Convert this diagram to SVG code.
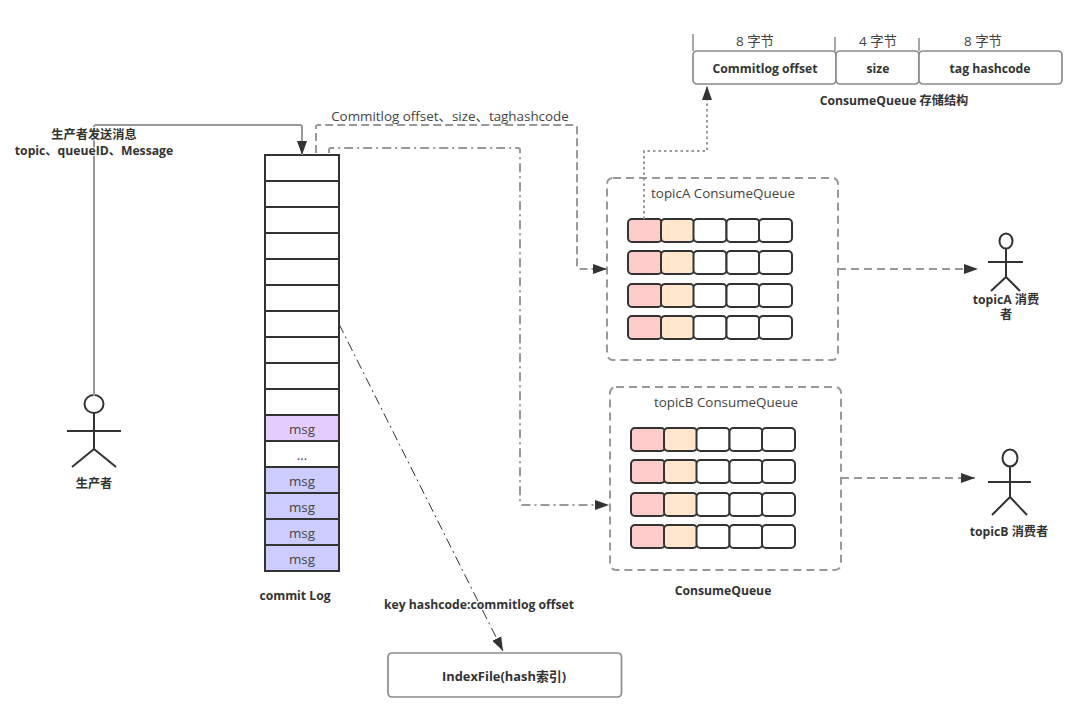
<svg xmlns="http://www.w3.org/2000/svg" width="1087" height="722" viewBox="0 0 1087 722">
<style>
text{font-family:"Open Sans","Noto Sans CJK SC",sans-serif;font-size:13.4px;fill:#444;text-anchor:middle}
.b{font-weight:700;font-size:12.2px;fill:#333}
.cell{stroke:#333;stroke-width:2;fill:#fff}
.q{stroke:#333;stroke-width:2;fill:#fff}
.p{fill:#ffcccc}.o{fill:#ffe6cc}
.box{stroke:#8c8c8c;stroke-width:1.700;fill:#fff}
.dash{stroke:#999;stroke-width:2;fill:none;stroke-dasharray:8 5}
.c{fill:none;stroke:#999;stroke-width:2}
.act{fill:none;stroke:#333;stroke-width:2}
</style>
<defs>
<marker id="ah" markerUnits="userSpaceOnUse" markerWidth="14" markerHeight="12" refX="14" refY="6" orient="auto"><path d="M0 1 L14 6 L0 11 Z" fill="#333"/></marker>
<g id="rowc"><rect class="q p" x="0" y="0" width="34" height="23" rx="4"/><rect class="q o" x="33" y="0" width="33" height="23" rx="4"/><rect class="q" x="65.500" y="0" width="33" height="23" rx="4"/><rect class="q" x="98.500" y="0" width="33" height="23" rx="4"/><rect class="q" x="131" y="0" width="33" height="23" rx="4"/></g>
</defs>
<rect width="1087" height="722" fill="#fff"/>
<g id="struct">
<path d="M693 34V51M835 37V51M919 38V51" stroke="#8c8c8c" stroke-width="1.500" fill="none"/>
<rect class="box" x="693" y="51" width="143" height="33" rx="4"/>
<rect class="box" x="836" y="51" width="83" height="33" rx="4"/>
<rect class="box" x="919" y="51" width="143" height="33" rx="4"/>
<text x="755" y="46">8 字节</text><text x="878" y="46">4 字节</text><text x="983" y="46">8 字节</text>
<text class="b" x="765" y="73">Commitlog offset</text><text class="b" x="878" y="73">size</text><text class="b" x="990" y="73">tag hashcode</text>
<text class="b" x="894" y="105">ConsumeQueue 存储结构</text>
</g>
<g id="commitlog">
<rect class="cell" x="265" y="155" width="74" height="26"/><rect class="cell" x="265" y="181" width="74" height="26"/><rect class="cell" x="265" y="207" width="74" height="26"/><rect class="cell" x="265" y="233" width="74" height="26"/><rect class="cell" x="265" y="259" width="74" height="26"/><rect class="cell" x="265" y="285" width="74" height="26"/><rect class="cell" x="265" y="311" width="74" height="26"/><rect class="cell" x="265" y="337" width="74" height="26"/><rect class="cell" x="265" y="363" width="74" height="26"/><rect class="cell" x="265" y="389" width="74" height="26"/>
<rect class="cell" x="265" y="415" width="74" height="26" style="fill:#e5ccff"/><rect class="cell" x="265" y="441" width="74" height="26"/>
<rect class="cell" x="265" y="467" width="74" height="26" style="fill:#ccccff"/><rect class="cell" x="265" y="493" width="74" height="26" style="fill:#ccccff"/><rect class="cell" x="265" y="519" width="74" height="26" style="fill:#ccccff"/><rect class="cell" x="265" y="545" width="74" height="26" style="fill:#ccccff"/>
<text x="302" y="434">msg</text><text x="302" y="460">...</text><text x="302" y="486">msg</text><text x="302" y="512">msg</text><text x="302" y="538">msg</text><text x="302" y="564">msg</text>
<text class="b" x="295" y="600">commit Log</text>
</g>
<g id="topicA">
<rect class="dash" x="607" y="178" width="231" height="182" rx="6"/>
<text x="723" y="198">topicA ConsumeQueue</text>
<use href="#rowc" x="628" y="219"/><use href="#rowc" x="628" y="251"/><use href="#rowc" x="628" y="284"/><use href="#rowc" x="628" y="316"/>
</g>
<g id="topicB">
<rect class="dash" x="610" y="387" width="231" height="183" rx="6"/>
<text x="726" y="407">topicB ConsumeQueue</text>
<use href="#rowc" x="631" y="428"/><use href="#rowc" x="631" y="460"/><use href="#rowc" x="631" y="493"/><use href="#rowc" x="631" y="525"/>
</g>
<g id="producer">
<ellipse class="act" cx="94" cy="404" rx="9.500" ry="9"/>
<path class="act" d="M94 413V449M67 431H121M94 449L72 467M94 449L116 467"/>
<text class="b" x="94" y="488">生产者</text>
</g>
<g id="consumerA">
<ellipse class="act" cx="1006" cy="241" rx="6.500" ry="7.500"/>
<path class="act" d="M1006 249V277M988 262H1023M1006 277L991 291M1006 277L1020 291"/>
<text class="b" x="1006" y="304">topicA 消费</text><text class="b" x="1006" y="319">者</text>
</g>
<g id="consumerB">
<ellipse class="act" cx="1010" cy="458" rx="7.500" ry="8.500"/>
<path class="act" d="M1010 467V497M988 482H1031M1010 497L992 515M1010 497L1027 515"/>
<text class="b" x="1009" y="536">topicB 消费者</text>
</g>
<g id="indexfile">
<rect class="box" x="388" y="653" width="233.500" height="44" rx="4"/>
<text class="b" x="504" y="681" style="font-size:12.900px">IndexFile(hash索引)</text>
</g>
<g id="connectors">
<path class="c" d="M94 396V127Q94 125 96 125H300Q302 125 302 127V155" marker-end="url(#ah)"/>
<path class="c" stroke-dasharray="8 4" d="M316 153V127Q316 125 318 125H575Q577 125 577 127V267Q577 269 579 269H607" marker-end="url(#ah)"/>
<path class="c" stroke-dasharray="9 4 2 4" d="M329 153V150Q329 148 331 148H518Q520 148 520 150V503Q520 505 522 505H609" marker-end="url(#ah)"/>
<path class="c" stroke-dasharray="2.500 3" d="M644 219V151H707V86" marker-end="url(#ah)"/>
<path class="c" stroke-dasharray="8 5" d="M838 269H978" marker-end="url(#ah)"/>
<path class="c" stroke-dasharray="8 5" d="M841 478H975" marker-end="url(#ah)"/>
<path fill="none" stroke="#333" stroke-dasharray="10 4 2 4" d="M339 324L503 651" marker-end="url(#ah)"/>
</g>
<g id="labels">
<text class="b" x="94" y="139" style="paint-order:stroke;stroke:#fff;stroke-width:2px">生产者发送消息</text>
<text class="b" x="94" y="155" style="paint-order:stroke;stroke:#fff;stroke-width:2px">topic、queueID、Message</text>
<text x="450" y="121">Commitlog offset、size、taghashcode</text>
<text class="b" x="479" y="609" style="paint-order:stroke;stroke:#fff;stroke-width:2px">key hashcode:commitlog offset</text>
<text class="b" x="723" y="595">ConsumeQueue</text>
</g>
</svg>
